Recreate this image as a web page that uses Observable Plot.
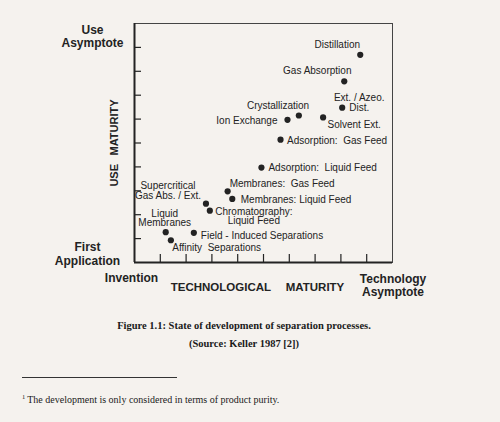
<!DOCTYPE html>
<html>
<head>
<meta charset="utf-8">
<script src="https://cdn.jsdelivr.net/npm/d3@7"></script>
<script src="https://cdn.jsdelivr.net/npm/@observablehq/plot@0.6"></script>
<style>
  html, body { margin: 0; padding: 0; background: #f5f2ee; }
  #page { position: relative; width: 500px; height: 422px; overflow: hidden; }
  #chart { position: absolute; left: 0; top: 0; }
  .cap { position: absolute; left: 0; width: 488px; text-align: center;
         font-family: "Liberation Serif", "Times New Roman", serif; font-weight: bold;
         font-size: 10.5px; line-height: 14px; color: #1a1a1a; }
  #rule { position: absolute; left: 22px; top: 377px; width: 155px; border-top: 1px solid #333; }
  #foot { position: absolute; left: 22px; top: 390px; font-family: "Liberation Serif", "Times New Roman", serif;
          font-size: 10px; line-height: 14px; color: #1a1a1a; white-space: nowrap; }
  #foot sup { font-size: 6.5px; vertical-align: 4px; margin-right: 2px; }
</style>
</head>
<body>
<div id="page">
  <div id="chart"></div>
  <div class="cap" style="top:319px">Figure 1.1: State of development of separation processes.</div>
  <div class="cap" style="top:337px">(Source: Keller 1987 [2])</div>
  <div id="rule"></div>
  <div id="foot"><sup>1</sup>The development is only considered in terms of product purity.</div>
</div>
<script>
// ---- data (0 = invention / first application, 10 = asymptote) ----
const processes = [
  "Distillation",
  "Gas Absorption",
  "Ext. / Azeo.\nDist.",
  "Crystallization",
  "Ion Exchange",
  "Solvent Ext.",
  "Adsorption:  Gas Feed",
  "Adsorption:  Liquid Feed",
  "Membranes:  Gas Feed",
  "Membranes: Liquid Feed",
  "Supercritical\nGas Abs. / Ext.",
  "Chromatography:\nLiquid Feed",
  "Liquid\nMembranes",
  "Field - Induced Separations",
  "Affinity  Separations"
];
const technologicalMaturity = [8.75, 8.13, 8.05, 6.37, 5.93, 7.31, 5.66, 4.92, 3.61, 3.79, 2.77, 2.92, 1.21, 2.30, 1.41];
const useMaturity          = [8.69, 7.58, 6.48, 6.15, 5.97, 6.07, 5.14, 3.97, 2.98, 2.66, 2.46, 2.17, 1.27, 1.24, 0.93];

const xTicks = [1, 2, 3, 4, 5, 6, 7, 8, 9];
const yTicks = [1, 2, 3, 4, 5, 6, 7, 8, 9];
const xEndLabels = ["Invention", "Technology\nAsymptote"];
const yEndLabels = ["First\nApplication", "Use\nAsymptote"];
const xTitle = "TECHNOLOGICAL\u2003 MATURITY";
const yTitle = "USE\u2002 MATURITY";

// ---- layout (label placement relative to each dot) ----
const placement = {
  "Distillation":                  ["middle", -23, -9.5],
  "Gas Absorption":                ["middle", -27, -10],
  "Ext. / Azeo.\nDist.":           ["middle", 17, -4.8],
  "Crystallization":               ["middle", -20.8, -10],
  "Ion Exchange":                  ["end", -10, 0.7],
  "Solvent Ext.":                  ["start", 4.4, 7.6],
  "Adsorption:  Gas Feed":         ["start", 6.5, 1],
  "Adsorption:  Liquid Feed":      ["start", 7, 0],
  "Membranes:  Gas Feed":          ["start", 2, -7.4],
  "Membranes: Liquid Feed":        ["start", 8.5, 1],
  "Supercritical\nGas Abs. / Ext.":["middle", -38, -13],
  "Chromatography:\nLiquid Feed":  ["middle", 44, 5.8],
  "Liquid\nMembranes":             ["middle", -1, -13.9],
  "Field - Induced Separations":   ["start", 7, 2.7],
  "Affinity  Separations":         ["start", 1.4, 8]
};

const ink = "#232323";
const labelFont = "'Liberation Sans Narrow', 'Arial Narrow', 'Liberation Sans', Arial, sans-serif";
const axisFont = "'Liberation Sans', Arial, Helvetica, sans-serif";

const data = processes.map((name, i) => ({name, x: technologicalMaturity[i], y: useMaturity[i]}));

const labelMarks = data.map(d => {
  const [anchor, dx, dy] = placement[d.name];
  return Plot.text([d], {
    x: "x", y: "y", text: "name",
    textAnchor: anchor, dx, dy, lineAnchor: "middle", lineHeight: 0.95,
    fontSize: 10, fontFamily: labelFont, fill: ink
  });
});

const chart = Plot.plot({
  width: 500,
  height: 300,
  marginLeft: 134,
  marginRight: 108,
  marginTop: 23,
  marginBottom: 38,
  style: {background: "transparent", color: ink, fontFamily: axisFont},
  x: {domain: [0, 10]},
  y: {domain: [0, 10]},
  marks: [
    Plot.frame({stroke: "#444", strokeWidth: 1}),
    Plot.ruleX([0], {stroke: ink, strokeWidth: 2}),
    Plot.ruleY([0], {stroke: ink, strokeWidth: 2}),
    // inward tick marks
    Plot.axisY(yTicks, {tickSize: -7, tickFormat: () => "", label: null, stroke: ink, strokeWidth: 1.2}),
    Plot.axisX(xTicks, {tickSize: -8, tickFormat: () => "", label: null, stroke: ink, strokeWidth: 1.2}),
    // end labels of the axes
    Plot.axisY([10], {tickSize: 0, tickFormat: () => yEndLabels[1], label: null, textAnchor: "middle",
      lineAnchor: "top", lineHeight: 1.08, dx: -33, dy: 1, fontSize: 12, fontWeight: "bold", fill: ink}),
    Plot.axisY([0], {tickSize: 0, tickFormat: () => yEndLabels[0], label: null, textAnchor: "middle",
      lineAnchor: "bottom", lineHeight: 1.12, dx: -38, dy: 2, fontSize: 12, fontWeight: "bold", fill: ink}),
    Plot.axisX([0], {tickSize: 0, tickFormat: () => xEndLabels[0], label: null,
      lineAnchor: "top", dx: -3, dy: 2, fontSize: 12, fontWeight: "bold", fill: ink}),
    Plot.axisX([10], {tickSize: 0, tickFormat: () => xEndLabels[1], label: null,
      lineAnchor: "top", lineHeight: 1.08, dx: 0.5, dy: 2.5, fontSize: 12, fontWeight: "bold", fill: ink}),
    // axis titles
    Plot.text([xTitle], {frameAnchor: "bottom", textAnchor: "middle", lineAnchor: "bottom", dx: -6, dy: 28,
      fontSize: 11.5, fontWeight: "bold", fill: ink}),
    Plot.text([yTitle], {frameAnchor: "left", textAnchor: "middle", rotate: -90, lineAnchor: "middle", dx: -20.5, dy: 0,
      fontSize: 11, fontWeight: "bold", fill: ink}),
    // processes
    Plot.dot(data, {x: "x", y: "y", r: 3.1, fill: ink, stroke: "none"}),
    ...labelMarks
  ]
});
document.getElementById("chart").appendChild(chart);
</script>
</body>
</html>
